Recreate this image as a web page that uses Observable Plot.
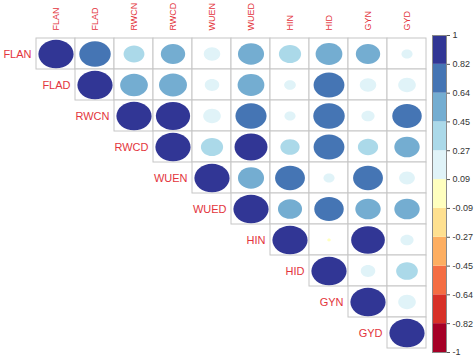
<!DOCTYPE html>
<html><head><meta charset="utf-8">
<script src="https://cdn.jsdelivr.net/npm/d3@7"></script>
<script src="https://cdn.jsdelivr.net/npm/@observablehq/plot@0.6"></script>
<style>
html,body{margin:0;padding:0;background:#fff;overflow:hidden;width:474px;height:357px;}
#wrap{position:relative;width:474px;height:357px;overflow:hidden;}
#main{position:absolute;left:0;top:0;width:474px;height:357px;}
#legend{position:absolute;left:420px;top:0;width:60px;height:357px;}
#wrap svg{max-width:none !important;}
</style></head><body><div id="wrap"><div id="main"></div><div id="legend"></div></div>
<script>
// Variables (row and column order)
const vars = ["FLAN","FLAD","RWCN","RWCD","WUEN","WUED","HIN","HID","GYN","GYD"];

// Upper-triangle correlations, each row starts at the diagonal
const rowFLAN = [1, 0.80, 0.35, 0.48, 0.22, 0.55, 0.40, 0.58, 0.48, 0.10];
const rowFLAD = [1, 0.62, 0.63, 0.17, 0.58, 0.11, 0.77, 0.22, 0.25];
const rowRWCN = [1, 0.95, 0.25, 0.78, 0.10, 0.80, 0.14, 0.70];
const rowRWCD = [1, 0.40, 0.88, 0.30, 0.77, 0.33, 0.52];
const rowWUEN = [1, 0.55, 0.72, 0.10, 0.72, 0.20];
const rowWUED = [1, 0.47, 0.70, 0.52, 0.52];
const rowHIN  = [1, 0.01, 0.92, 0.14];
const rowHID  = [1, 0.17, 0.38];
const rowGYN  = [1, 0.25];
const rowGYD  = [1];
const rows = [rowFLAN,rowFLAD,rowRWCN,rowRWCD,rowWUEN,rowWUED,rowHIN,rowHID,rowGYN,rowGYD];

// Colour legend: tick values (bin edges), their labels, and bin colours (bottom to top)
const tickValues = [-1, -0.818, -0.636, -0.455, -0.273, -0.091, 0.091, 0.273, 0.455, 0.636, 0.818, 1];
const tickLabels = ["-1","-0.82","-0.64","-0.45","-0.27","-0.09","0.09","0.27","0.45","0.64","0.82","1"];
const binColors = ["#a50026","#d73027","#f46d43","#fdae61","#fee090","#ffffbf","#e0f3f8","#abd9e9","#74add1","#4575b4","#313695"];

const labelRed = "#e3343c";
const font = "'Liberation Sans', Arial, sans-serif";

const cells = [];
rows.forEach((vals, i) => vals.forEach((v, k) => cells.push({row: vars[i], col: vars[i + k], v})));

const colorScale = {type: "threshold", domain: tickValues.slice(1, -1), range: binColors};

const ratio = 31.9 / 39.1;
const ellipse = {
  draw(ctx, size) {
    const rx = Math.sqrt(size / Math.PI), ry = rx * ratio, k = 0.5522847;
    ctx.moveTo(rx, 0);
    ctx.bezierCurveTo(rx, ry * k, rx * k, ry, 0, ry);
    ctx.bezierCurveTo(-rx * k, ry, -rx, ry * k, -rx, 0);
    ctx.bezierCurveTo(-rx, -ry * k, -rx * k, -ry, 0, -ry);
    ctx.bezierCurveTo(rx * k, -ry, rx, -ry * k, rx, 0);
    ctx.closePath();
  }
};

const main = Plot.plot({
  width: 474, height: 357,
  marginLeft: 35, marginRight: 48, marginTop: 33, marginBottom: 5,
  x: {domain: vars, padding: 0, axis: null},
  y: {domain: vars, padding: 0, axis: null},
  color: colorScale,
  r: {type: "sqrt", domain: [0, 1], range: [0, 17.6]},
  style: {fontFamily: font, background: "#fff", overflow: "visible"},
  marks: [
    Plot.cell(cells, {x: "col", y: "row", fill: "white", stroke: "#c6c6c6", strokeWidth: 1}),
    Plot.dot(cells, {x: "col", y: "row", r: d => Math.abs(d.v), fill: "v", symbol: ellipse}),
    Plot.axisX({anchor: "top", label: null, tickRotate: -90, tickSize: 0, tickPadding: 3, fill: labelRed, fontSize: 9}),
    Plot.text(vars, {x: d => d, y: d => d, text: d => d, textAnchor: "end", dx: -24.5, fill: labelRed, fontSize: 11})
  ]
});
document.getElementById("main").appendChild(main);

const bins = binColors.map((c, i) => ({y1: tickValues[i], y2: tickValues[i + 1]}));
const labelOf = new Map(tickValues.map((t, i) => [t, tickLabels[i]]));
const legend = Plot.plot({
  width: 60, height: 357,
  marginLeft: 12, marginRight: 34, marginTop: 35, marginBottom: 5,
  y: {domain: [-1, 1], axis: null},
  color: colorScale,
  style: {fontFamily: font, background: "transparent", overflow: "visible"},
  marks: [
    Plot.rect(bins, {y1: "y1", y2: "y2", fill: d => (d.y1 + d.y2) / 2}),
    Plot.frame({stroke: "#8a8a8a", strokeWidth: 1}),
    Plot.axisY({anchor: "right", label: null, ticks: tickValues, tickFormat: d => labelOf.get(d), tickSize: 3, tickPadding: 3, fontSize: 9, fill: "#333", stroke: "#555"})
  ]
});
document.getElementById("legend").appendChild(legend);
</script></body></html>
